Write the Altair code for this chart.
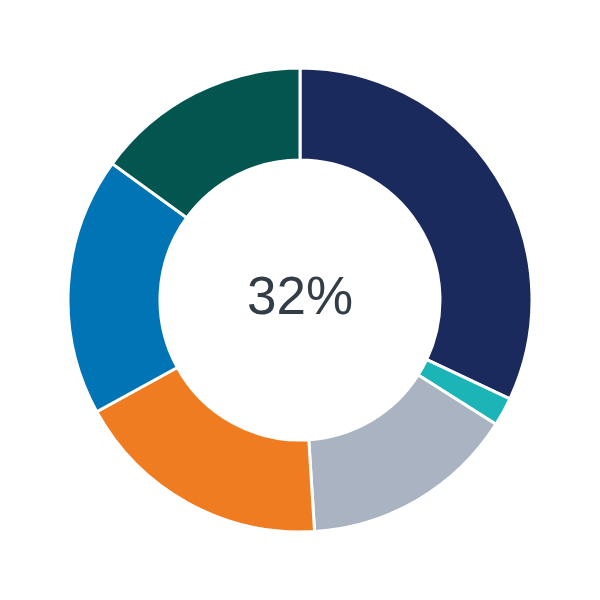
import altair as alt
import pandas as pd

categories = ["A", "B", "C", "D", "E", "F"]
values = [32, 2, 15, 18, 18, 15]
colors = ["#1b2a5c", "#1bb5b7", "#a9b3c1", "#f07c22", "#0074b4", "#02564f"]
center_label = "32%"

df = pd.DataFrame({"cat": categories, "value": values, "idx": list(range(len(values)))})

arcs = alt.Chart(df).mark_arc(
    outerRadius=232, innerRadius=140, stroke="white", strokeWidth=3
).encode(
    theta=alt.Theta("value:Q", stack=True),
    color=alt.Color("cat:N", scale=alt.Scale(domain=categories, range=colors), legend=None),
    order=alt.Order("idx:Q"),
)

text = alt.Chart(pd.DataFrame({"t": [center_label]})).mark_text(
    fontSize=53, font="Arial", color="#333d47", align="center", baseline="middle"
).encode(
    text="t:N",
    x=alt.value(292),
    y=alt.value(290),
)

chart = alt.layer(arcs, text).properties(
    width=584, height=584, padding=0,
    autosize=alt.AutoSizeParams(type="fit", contains="padding"),
).configure_view(stroke=None)

chart.save("out.html", embed_options={"renderer": "svg", "actions": False})
